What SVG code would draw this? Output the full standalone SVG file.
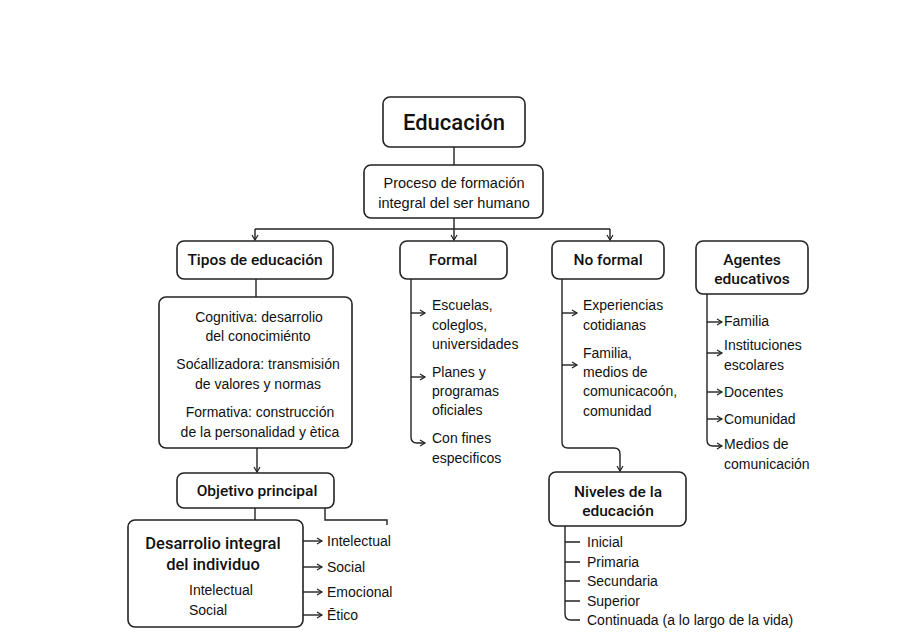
<svg xmlns="http://www.w3.org/2000/svg" width="905" height="640" viewBox="0 0 905 640">
<defs>
<style>
.box{fill:#fff;stroke:#222;stroke-width:1.6}
.ln{fill:none;stroke:#222;stroke-width:1.4}
.ar{fill:none;stroke:#222;stroke-width:1.4;marker-end:url(#ah)}
text{font-family:"Liberation Sans",Arial,sans-serif;fill:#111}
.t{font-size:14px}
.h{font-family:Roboto,"Liberation Sans",sans-serif;font-weight:500;font-size:15.5px}
.c{text-anchor:middle}
</style>
<marker id="ah" markerWidth="9" markerHeight="9" refX="7" refY="4.5" orient="auto" markerUnits="userSpaceOnUse">
<path d="M2,1.5 L7,4.5 L2,7.5" fill="none" stroke="#222" stroke-width="1.2"/>
</marker>
</defs>
<rect width="905" height="640" fill="#fff"/>

<g id="connectors">
<path class="ln" d="M454,147 V165"/>
<path class="ar" d="M454,218 V240"/>
<path class="ln" d="M255,229 H610"/>
<path class="ar" d="M255,229 V240"/>
<path class="ar" d="M610,229 V240"/>
<path class="ln" d="M256,279 V297"/>
<path class="ar" d="M257,448 V472"/>
<path class="ln" d="M255,508 V520"/>
<path class="ln" d="M325,508 V520 H387 V525"/>
<path class="ar" d="M303,541 H322"/>
<path class="ar" d="M303,567 H322"/>
<path class="ar" d="M303,592 H322"/>
<path class="ar" d="M303,615 H322"/>
<path class="ar" d="M411,279 V437 Q411,443 417,443 H425"/>
<path class="ar" d="M411,313 H425"/>
<path class="ar" d="M411,377 H425"/>
<path class="ar" d="M562,279 V442 Q562,448 568,448 H614 Q620,448 620,454 V471"/>
<path class="ar" d="M562,313 H577"/>
<path class="ar" d="M562,365 H577"/>
<path class="ln" d="M565,526 V614 Q565,620 571,620 H580"/>
<path class="ln" d="M565,542 H580 M565,562 H580 M565,581 H580 M565,601 H580"/>
<path class="ar" d="M707,294 V440 Q707,446 713,446 H722"/>
<path class="ar" d="M707,322 H722"/>
<path class="ar" d="M707,353 H722"/>
<path class="ar" d="M707,392 H722"/>
<path class="ar" d="M707,419 H722"/>
</g>

<g id="educacion">
<rect class="box" x="383" y="97" width="142" height="50" rx="7"/>
<text class="c" x="454" y="130" style="font-family:Roboto,'Liberation Sans',sans-serif;font-weight:500;font-size:22px">Educación</text>
</g>

<g id="proceso">
<rect class="box" x="364" y="165" width="179" height="53" rx="7"/>
<text class="t c" x="454" y="188" style="font-size:14.5px">Proceso de formación</text>
<text class="t c" x="454" y="208" style="font-size:14.5px">integral del ser humano</text>
</g>

<g id="tipos">
<rect class="box" x="177" y="241" width="156" height="38" rx="7"/>
<text class="h c" x="255" y="265">Tipos de educación</text>
</g>

<g id="formal">
<rect class="box" x="400" y="241" width="107" height="38" rx="7"/>
<text class="h c" x="453" y="265">Formal</text>
</g>

<g id="noformal">
<rect class="box" x="552" y="241" width="112" height="38" rx="7"/>
<text class="h c" x="608" y="265">No formal</text>
</g>

<g id="agentes">
<rect class="box" x="696" y="241" width="112" height="53" rx="7"/>
<text class="h c" x="752" y="265">Agentes</text>
<text class="h c" x="752" y="284">educativos</text>
</g>

<g id="tipos-detalle">
<rect class="box" x="159" y="297" width="193" height="151" rx="7"/>
<text class="t c" x="259" y="322">Cognitiva: desarrolio</text>
<text class="t c" x="258" y="341">del conocimiénto</text>
<text class="t c" x="258" y="369">Soćallizadora: transmisión</text>
<text class="t c" x="258" y="389">de valores y normas</text>
<text class="t c" x="260" y="417">Formativa: construcción</text>
<text class="t c" x="260" y="437">de la personalidad y ètica</text>
</g>

<g id="objetivo">
<rect class="box" x="177" y="473" width="157" height="35" rx="7"/>
<text class="h c" x="257" y="496">Objetivo principal</text>
</g>

<g id="desarrollo">
<rect class="box" x="128" y="520" width="175" height="107" rx="7"/>
<text class="c" x="213" y="549" style="font-family:Roboto,'Liberation Sans',sans-serif;font-weight:500;font-size:16.5px">Desarrolio integral</text>
<text class="c" x="213" y="570" style="font-family:Roboto,'Liberation Sans',sans-serif;font-weight:500;font-size:16.5px">del individuo</text>
<text class="t" x="189" y="595">Intelectual</text>
<text class="t" x="189" y="615">Social</text>
</g>

<g id="dimensiones">
<text class="t" x="327" y="546">Intelectual</text>
<text class="t" x="327" y="572">Social</text>
<text class="t" x="327" y="597">Emocional</text>
<text class="t" x="327" y="620">Ētico</text>
</g>

<g id="formal-items">
<text class="t" x="432" y="310">Escuelas,</text>
<text class="t" x="432" y="330">coleglos,</text>
<text class="t" x="432" y="349">universidades</text>
<text class="t" x="432" y="377">Planes y</text>
<text class="t" x="432" y="396">programas</text>
<text class="t" x="432" y="415">oficiales</text>
<text class="t" x="432" y="443">Con fines</text>
<text class="t" x="432" y="463">especificos</text>
</g>

<g id="noformal-items">
<text class="t" x="583" y="310">Experiencias</text>
<text class="t" x="583" y="330">cotidianas</text>
<text class="t" x="583" y="358">Familia,</text>
<text class="t" x="583" y="377">medios de</text>
<text class="t" x="583" y="396">comunicacoón,</text>
<text class="t" x="583" y="416">comunidad</text>
</g>

<g id="agentes-items">
<text class="t" x="724" y="326">Familia</text>
<text class="t" x="724" y="350">Instituciones</text>
<text class="t" x="724" y="370">escolares</text>
<text class="t" x="724" y="397">Docentes</text>
<text class="t" x="724" y="424">Comunidad</text>
<text class="t" x="724" y="449">Medios de</text>
<text class="t" x="724" y="469">comunicación</text>
</g>

<g id="niveles">
<rect class="box" x="549" y="472" width="137" height="54" rx="7"/>
<text class="h c" x="618" y="497">Niveles de la</text>
<text class="h c" x="618" y="516">educación</text>
</g>

<g id="niveles-items">
<text class="t" x="587" y="547">Inicial</text>
<text class="t" x="587" y="567">Primaria</text>
<text class="t" x="587" y="586">Secundaria</text>
<text class="t" x="587" y="606">Superior</text>
<text class="t" x="587" y="625">Continuada (a lo largo de la vida)</text>
</g>
</svg>
